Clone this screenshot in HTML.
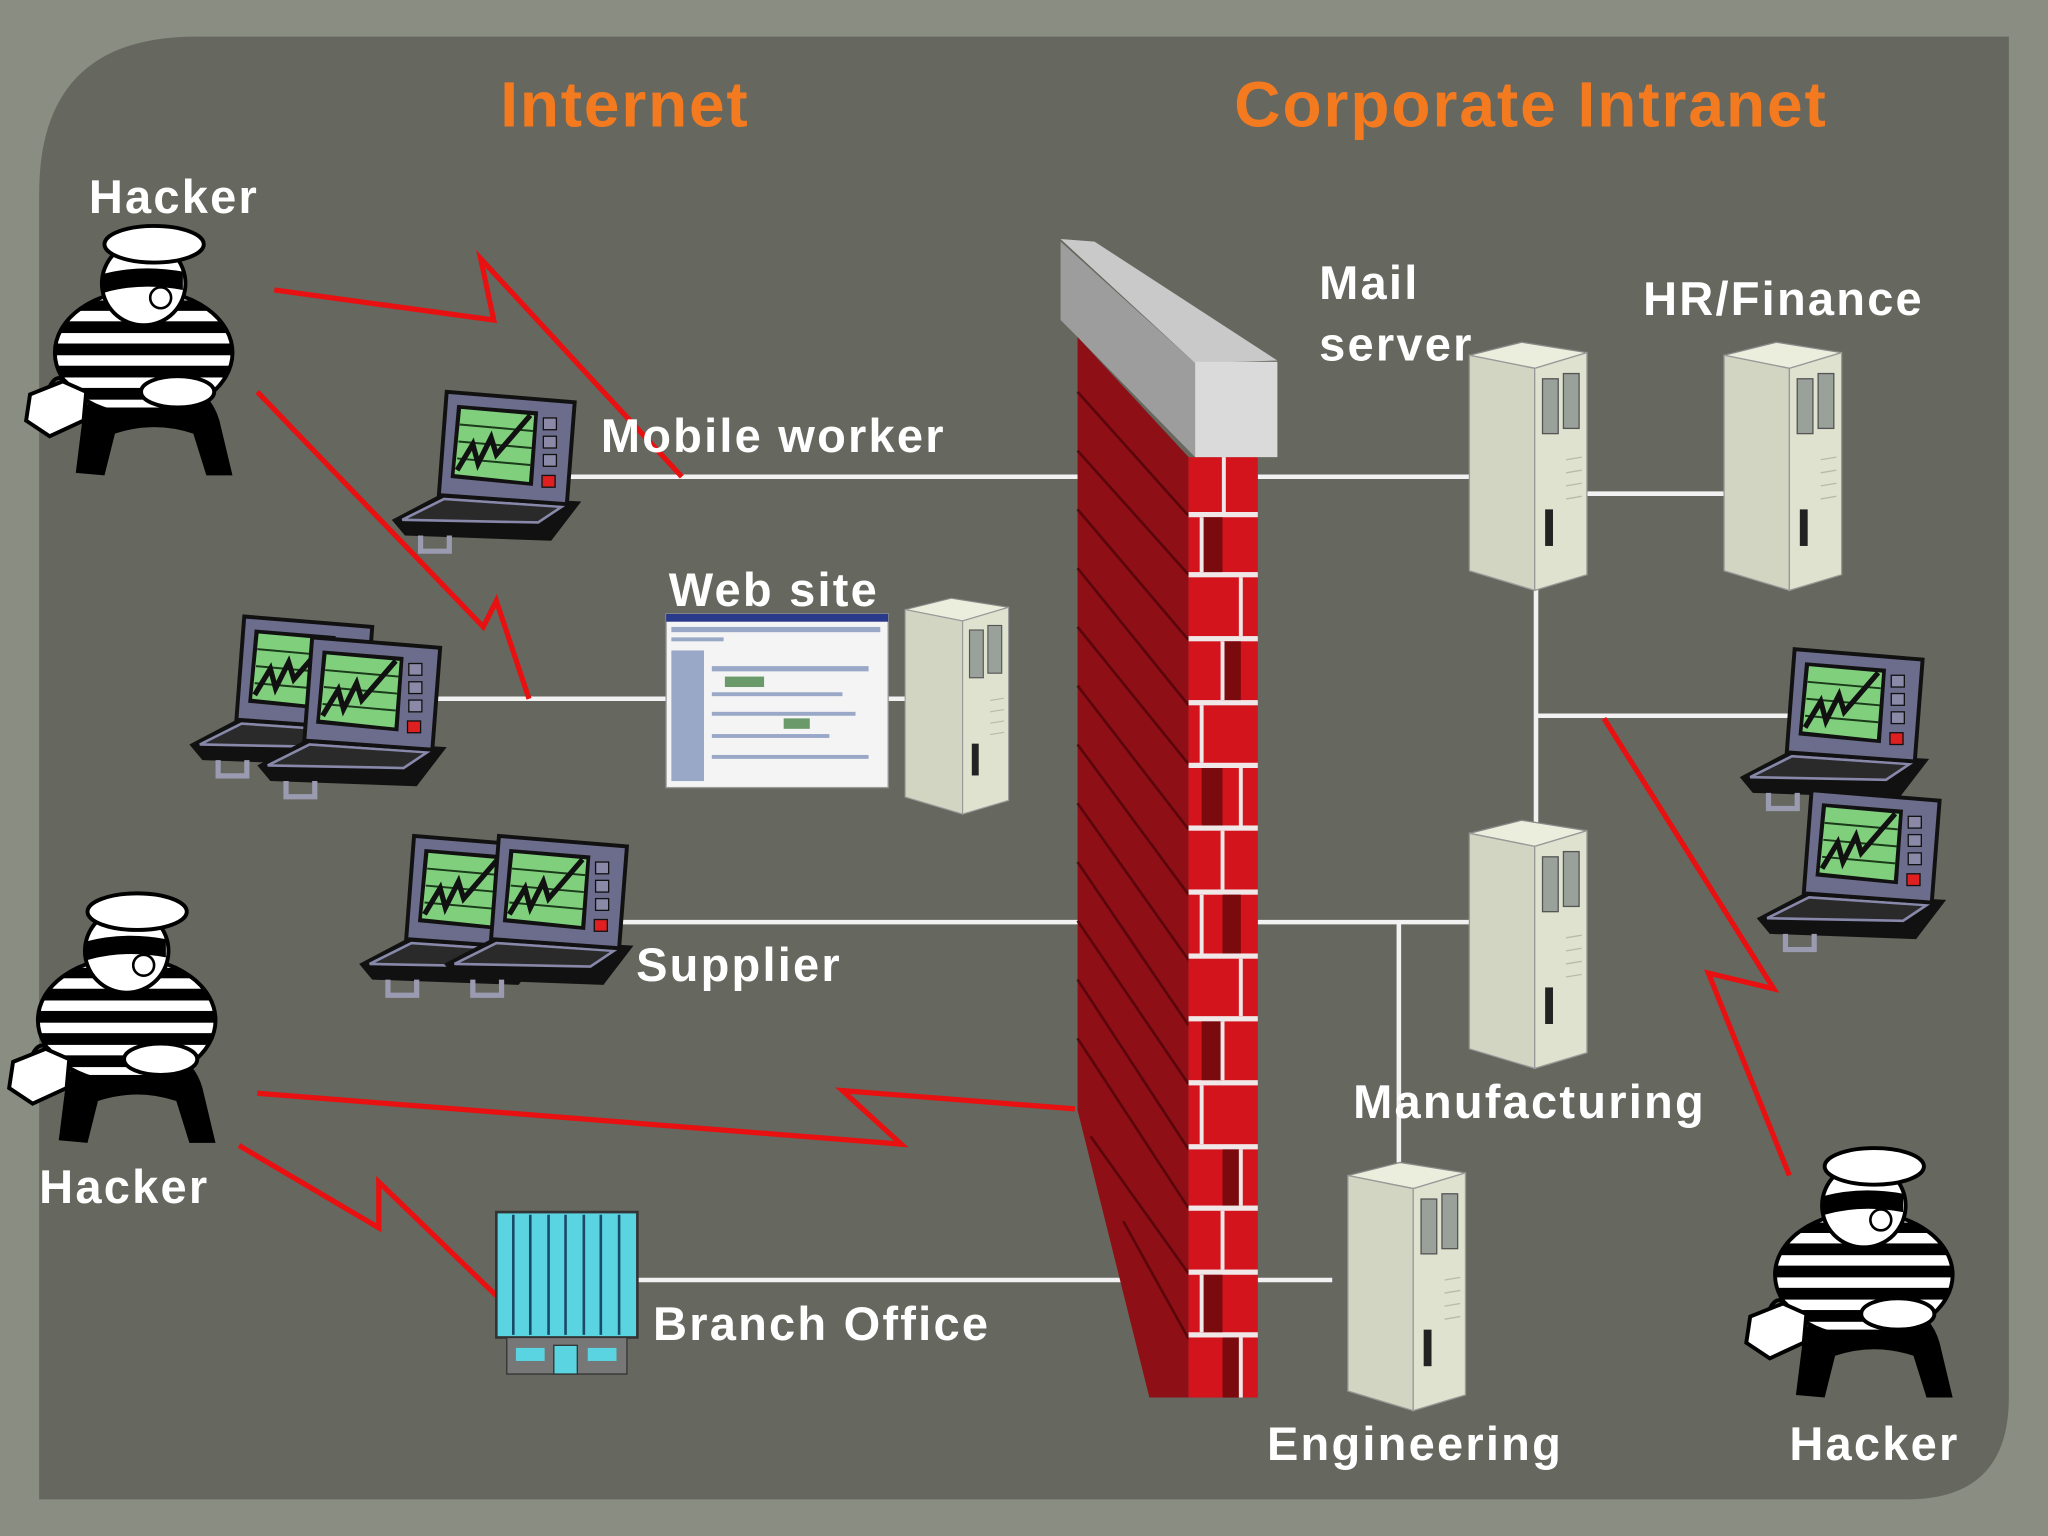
<!DOCTYPE html>
<html><head><meta charset="utf-8"><style>
html,body{margin:0;padding:0;background:#8a8d81;}
svg{display:block;}
text{font-family:"Liberation Sans",Arial,sans-serif;font-weight:bold;}
</style></head><body>
<svg width="2048" height="1536" viewBox="0 0 1568 1176" xmlns="http://www.w3.org/2000/svg">
<defs>
<clipPath id="torso"><ellipse cx="0" cy="0" rx="68" ry="48"/></clipPath>
<g id="laptop">
  <polygon points="0,98 38,78 145,84 122,114 10,110" fill="#111"/>
  <polygon points="8,98 40,82 130,88 112,100" fill="#2a2a2a" stroke="#8888aa" stroke-width="2"/>
  <polygon points="42,0 140,8 134,86 36,79" fill="#6c6c8c" stroke="#111" stroke-width="3"/>
  <polygon points="50,10 112,15 108,72 45,66" fill="#111"/>
  <polygon points="53,13 109,18 105,69 48,63" fill="#7fcf7c"/>
  <g stroke="#1a3a1a" stroke-width="1.5"><line x1="52" y1="25" x2="108" y2="30"/><line x1="51" y1="38" x2="107" y2="43"/><line x1="50" y1="51" x2="106" y2="56"/></g>
  <polyline points="50,60 62,40 66,55 76,35 80,48 106,18" fill="none" stroke="#111" stroke-width="4"/>
  <rect x="116" y="20" width="10" height="9" fill="#8a8aa8" stroke="#111"/>
  <rect x="116" y="34" width="10" height="9" fill="#8a8aa8" stroke="#111"/>
  <rect x="116" y="48" width="10" height="9" fill="#8a8aa8" stroke="#111"/>
  <rect x="115" y="64" width="10" height="9" fill="#e02020" stroke="#111"/>
  <path d="M22,110 v12 h22 v-12" fill="none" stroke="#9a9ab0" stroke-width="4"/>
</g>
<g id="server">
  <polygon points="0,10 40,0 90,8 50,20" fill="#eceedd" stroke="#888" stroke-width="1"/>
  <polygon points="0,10 50,20 50,190 0,175" fill="#d2d5c1" stroke="#999" stroke-width="1"/>
  <polygon points="50,20 90,8 90,178 50,190" fill="#dfe2cf" stroke="#999" stroke-width="1"/>
  <rect x="56" y="28" width="12" height="42" fill="#9aa09a" stroke="#555"/>
  <rect x="72" y="24" width="12" height="42" fill="#9aa09a" stroke="#555"/>
  <rect x="58" y="128" width="6" height="28" fill="#222"/>
  <g stroke="#b8bba8" stroke-width="1"><line x1="74" y1="90" x2="86" y2="88"/><line x1="74" y1="100" x2="86" y2="98"/><line x1="74" y1="110" x2="86" y2="108"/><line x1="74" y1="120" x2="86" y2="118"/></g>
</g>
<g id="hacker">
  <path d="M40,190 L45,150 Q50,118 90,115 Q140,115 150,150 L160,192 L140,192 L130,160 Q100,150 70,160 L62,192 Z" fill="#000"/>
  <g transform="translate(92,98)">
    <g clip-path="url(#torso)">
      <rect x="-70" y="-50" width="140" height="100" fill="#fff"/>
      <g fill="#000"><rect x="-70" y="-40" width="140" height="8"/><rect x="-70" y="-24" width="140" height="9"/><rect x="-70" y="-7" width="140" height="9"/><rect x="-70" y="10" width="140" height="9"/><rect x="-70" y="27" width="140" height="9"/><rect x="-70" y="42" width="140" height="9"/></g>
    </g>
    <ellipse cx="0" cy="0" rx="68" ry="48" fill="none" stroke="#000" stroke-width="3"/>
  </g>
  <ellipse cx="92" cy="45" rx="32" ry="32" fill="#fff" stroke="#000" stroke-width="3"/>
  <path d="M60,38 Q90,30 122,36 L122,50 Q90,44 62,52 Z" fill="#000"/>
  <ellipse cx="100" cy="15" rx="38" ry="14" fill="#fff" stroke="#000" stroke-width="3"/>
  <circle cx="105" cy="56" r="8" fill="#fff" stroke="#000" stroke-width="2"/>
  <ellipse cx="118" cy="128" rx="28" ry="12" fill="#fff" stroke="#000" stroke-width="3"/>
  <polygon points="5,130 30,120 48,128 46,150 20,162 2,150" fill="#fff" stroke="#000" stroke-width="3"/>
  <path d="M20,124 q6,-12 14,-2" fill="none" stroke="#000" stroke-width="3"/>
</g>
</defs>

<rect x="0" y="0" width="1568" height="1176" fill="#8a8d81"/>
<path d="M150,28 H1538 V1070 Q1538,1148 1460,1148 H30 V148 Q30,28 150,28 Z" fill="#66675e"/>

<text x="383" y="97" font-size="49" letter-spacing="1.4" fill="#f47a20">Internet</text>
<text x="945" y="97" font-size="49" letter-spacing="1.5" fill="#f47a20">Corporate Intranet</text>

<g stroke="#f2f2f2" stroke-width="3.5" fill="none">
  <line x1="430" y1="365" x2="826" y2="365"/><line x1="963" y1="365" x2="1125" y2="365"/>
  <line x1="1215" y1="378" x2="1320" y2="378"/>
  <line x1="330" y1="535" x2="510" y2="535"/><line x1="680" y1="535" x2="695" y2="535"/>
  <line x1="470" y1="706" x2="826" y2="706"/><line x1="963" y1="706" x2="1135" y2="706"/>
  <line x1="1071" y1="706" x2="1071" y2="890"/>
  <line x1="1176" y1="450" x2="1176" y2="630"/>
  <line x1="1176" y1="548" x2="1370" y2="548"/>
  <line x1="488" y1="980" x2="876" y2="980"/><line x1="963" y1="980" x2="1020" y2="980"/>
</g>

<!-- Wall -->
<polygon points="825,258 910,350 910,1070 880,1070 825,850" fill="#8e0f16"/>
<g stroke="#5a060a" stroke-width="2">
  <line x1="825" y1="300" x2="910" y2="395"/><line x1="825" y1="345" x2="910" y2="440"/><line x1="825" y1="390" x2="910" y2="490"/><line x1="825" y1="435" x2="910" y2="540"/><line x1="825" y1="480" x2="910" y2="585"/><line x1="825" y1="525" x2="910" y2="635"/><line x1="825" y1="570" x2="910" y2="685"/><line x1="825" y1="615" x2="910" y2="735"/><line x1="825" y1="660" x2="910" y2="785"/><line x1="825" y1="705" x2="910" y2="830"/><line x1="825" y1="750" x2="910" y2="880"/><line x1="825" y1="795" x2="910" y2="925"/><line x1="835" y1="870" x2="910" y2="975"/><line x1="860" y1="935" x2="910" y2="1025"/>
</g>
<rect x="910" y="350" width="53" height="720" fill="#d4141c"/>
<g fill="#f0e8e8">
  <rect x="910" y="392" width="53" height="4"/><rect x="910" y="438" width="53" height="4"/><rect x="910" y="487" width="53" height="4"/><rect x="910" y="536" width="53" height="4"/><rect x="910" y="584" width="53" height="4"/><rect x="910" y="632" width="53" height="4"/><rect x="910" y="681" width="53" height="4"/><rect x="910" y="730" width="53" height="4"/><rect x="910" y="778" width="53" height="4"/><rect x="910" y="827" width="53" height="4"/><rect x="910" y="876" width="53" height="4"/><rect x="910" y="923" width="53" height="4"/><rect x="910" y="972" width="53" height="4"/><rect x="910" y="1020" width="53" height="4"/>
</g>
<g fill="#7a0a0e">
  <rect x="920" y="396" width="16" height="42"/><rect x="936" y="491" width="14" height="45"/><rect x="920" y="588" width="16" height="44"/><rect x="936" y="685" width="14" height="45"/><rect x="920" y="782" width="16" height="45"/><rect x="936" y="880" width="14" height="43"/><rect x="920" y="976" width="16" height="44"/><rect x="936" y="1024" width="14" height="46"/>
</g>
<g stroke="#f0e8e8" stroke-width="3">
  <line x1="937" y1="350" x2="937" y2="392"/><line x1="920" y1="396" x2="920" y2="438"/><line x1="950" y1="442" x2="950" y2="487"/><line x1="936" y1="491" x2="936" y2="536"/><line x1="920" y1="540" x2="920" y2="584"/><line x1="950" y1="588" x2="950" y2="632"/><line x1="936" y1="636" x2="936" y2="681"/><line x1="920" y1="685" x2="920" y2="730"/><line x1="950" y1="734" x2="950" y2="778"/><line x1="936" y1="782" x2="936" y2="827"/><line x1="920" y1="831" x2="920" y2="876"/><line x1="950" y1="880" x2="950" y2="923"/><line x1="936" y1="927" x2="936" y2="972"/><line x1="920" y1="976" x2="920" y2="1020"/><line x1="950" y1="1024" x2="950" y2="1070"/>
</g>
<polygon points="812,185 915,278 915,350 825,258 812,245" fill="#9d9d9d"/>
<polygon points="812,183 838,185 978,276 915,278" fill="#c9c9c9"/>
<rect x="915" y="277" width="63" height="73" fill="#dadada"/>

<!-- Red attack lines -->
<g stroke="#e81010" stroke-width="4" fill="none" stroke-linejoin="miter">
  <polyline points="210,222 378,245 368,198 522,365"/>
  <polyline points="197,300 370,480 380,460 405,535"/>
  <polyline points="197,837 690,876 645,835 823,849"/>
  <polyline points="183,877 290,940 290,905 380,992"/>
  <polyline points="1228,550 1358,757 1308,745 1370,900"/>
</g>

<use href="#laptop" transform="translate(300,300)"/>
<use href="#laptop" transform="translate(145,472)"/>
<use href="#laptop" transform="translate(197,488)"/>
<use href="#laptop" transform="translate(275,640)"/>
<use href="#laptop" transform="translate(340,640)"/>
<use href="#laptop" transform="translate(1332,497)"/>
<use href="#laptop" transform="translate(1345,605)"/>

<use href="#server" transform="translate(1125,262)"/>
<use href="#server" transform="translate(1320,262)"/>
<use href="#server" transform="translate(693,458) scale(0.88,0.87)"/>
<use href="#server" transform="translate(1125,628)"/>
<use href="#server" transform="translate(1032,890)"/>

<rect x="510" y="470" width="170" height="133" fill="#f4f4f4" stroke="#999"/>
<rect x="510" y="470" width="170" height="6" fill="#2a3a8a"/>
<g fill="#9aa8c8"><rect x="514" y="480" width="160" height="4"/><rect x="514" y="488" width="40" height="3"/><rect x="514" y="498" width="25" height="100"/><rect x="545" y="510" width="120" height="4"/><rect x="545" y="530" width="100" height="3"/><rect x="545" y="545" width="110" height="3"/><rect x="545" y="562" width="90" height="3"/><rect x="545" y="578" width="120" height="3"/></g>
<g fill="#6a9a6a"><rect x="555" y="518" width="30" height="8"/><rect x="600" y="550" width="20" height="8"/></g>

<rect x="380" y="928" width="108" height="96" fill="#5ad4e0" stroke="#333" stroke-width="2"/>
<g stroke="#1a4a6a" stroke-width="2"><line x1="393" y1="930" x2="393" y2="1022"/><line x1="406" y1="930" x2="406" y2="1022"/><line x1="420" y1="930" x2="420" y2="1022"/><line x1="433" y1="930" x2="433" y2="1022"/><line x1="447" y1="930" x2="447" y2="1022"/><line x1="460" y1="930" x2="460" y2="1022"/><line x1="474" y1="930" x2="474" y2="1022"/></g>
<rect x="388" y="1024" width="92" height="28" fill="#777" stroke="#333"/>
<rect x="395" y="1032" width="22" height="10" fill="#5ad4e0"/><rect x="450" y="1032" width="22" height="10" fill="#5ad4e0"/><rect x="424" y="1030" width="18" height="22" fill="#5ad4e0" stroke="#333"/>

<use href="#hacker" transform="translate(18,172)"/>
<use href="#hacker" transform="translate(5,683)"/>
<use href="#hacker" transform="translate(1335,878)"/>

<g fill="#ffffff" font-size="36" letter-spacing="1.7">
<text x="68" y="163">Hacker</text>
<text x="460" y="346">Mobile worker</text>
<text x="512" y="464">Web site</text>
<text x="487" y="751">Supplier</text>
<text x="30" y="921">Hacker</text>
<text x="500" y="1026">Branch Office</text>
<text x="1010" y="229">Mail</text>
<text x="1010" y="276">server</text>
<text x="1258" y="241">HR/Finance</text>
<text x="1036" y="856">Manufacturing</text>
<text x="970" y="1118">Engineering</text>
<text x="1370" y="1118">Hacker</text>
</g>
</svg>
</body></html>
